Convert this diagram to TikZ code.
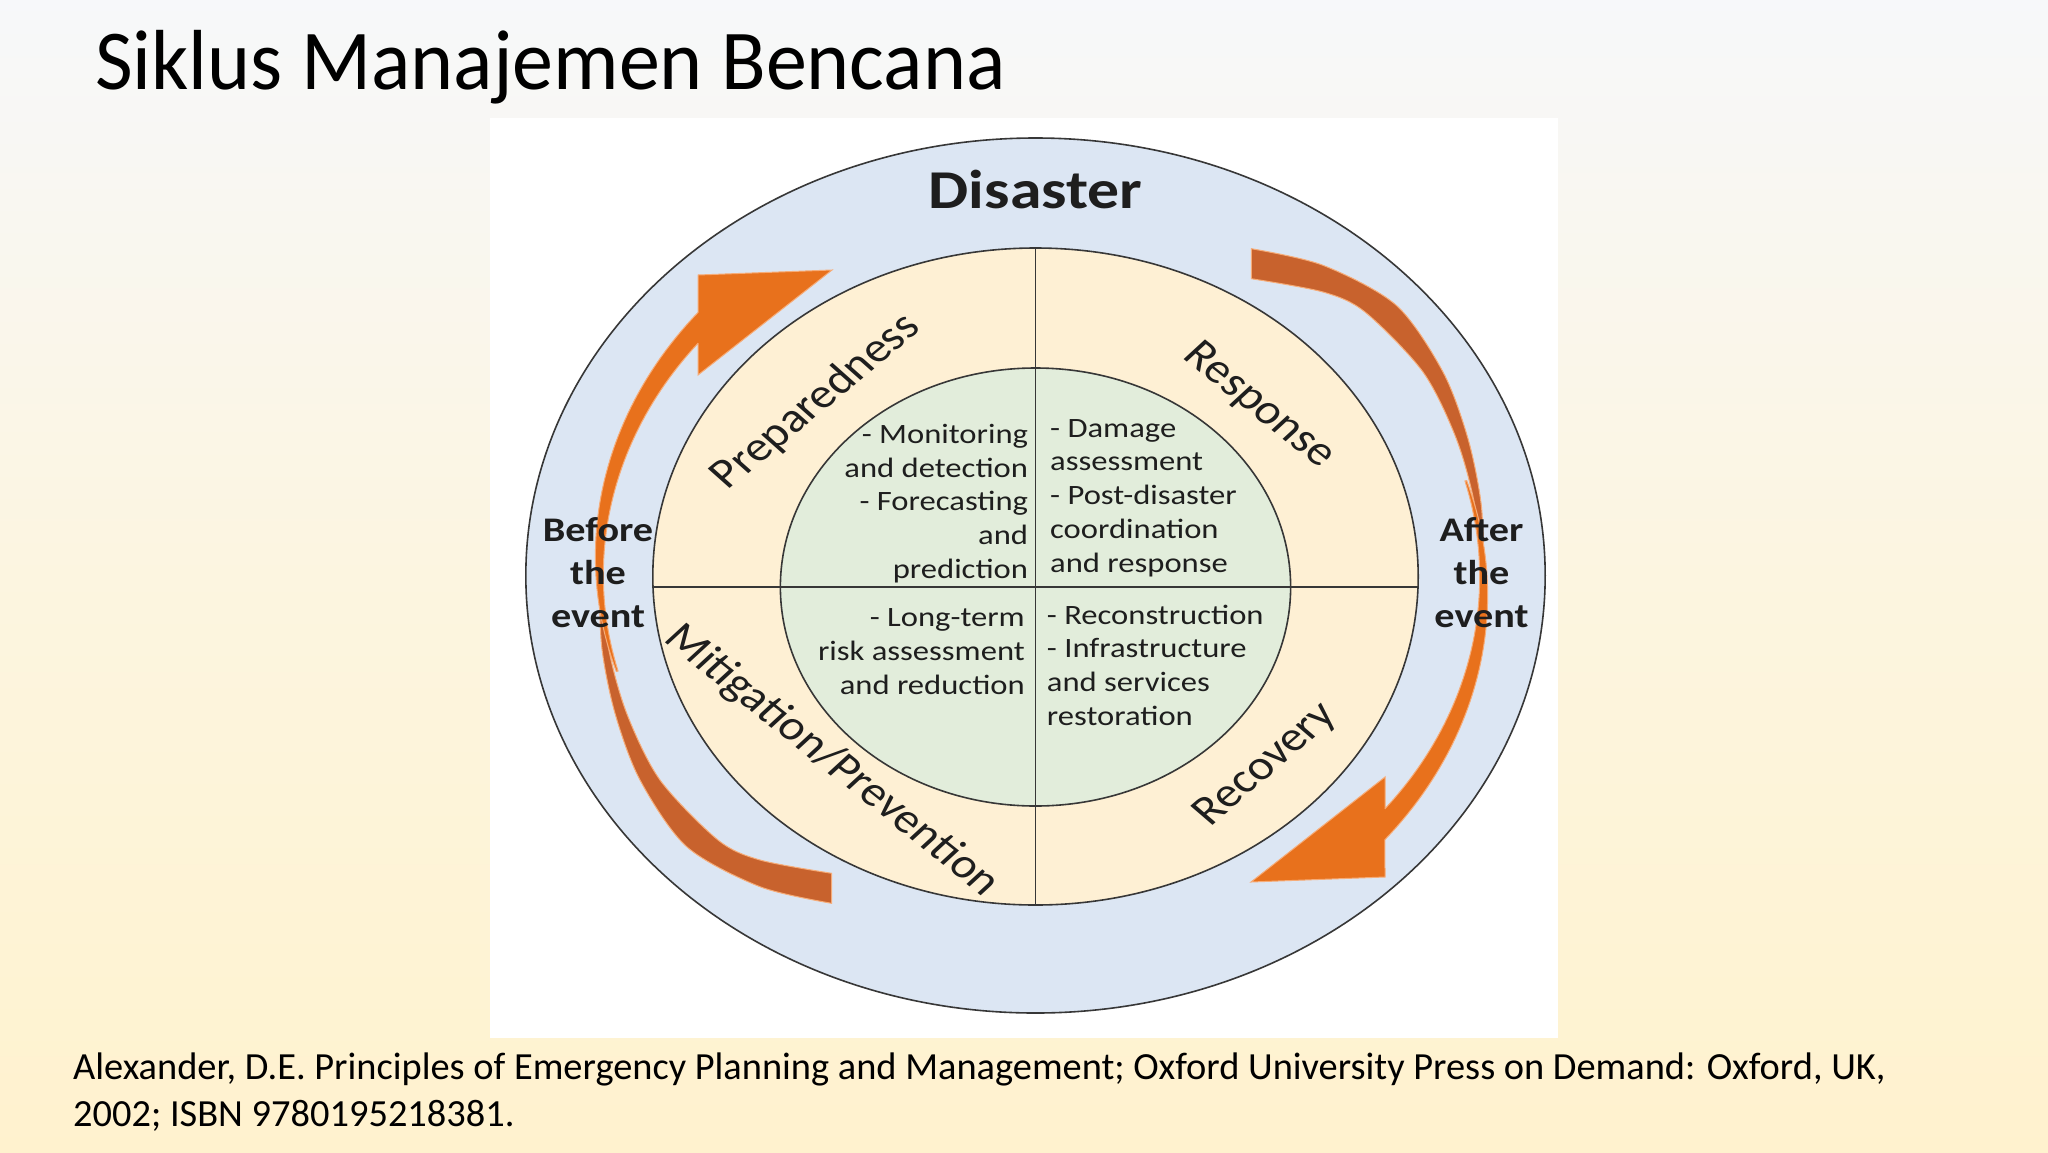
\documentclass[tikz,border=0pt]{standalone}
\usepackage{fontspec}
\setmainfont{Carlito}
\definecolor{bgtop}{RGB}{247,248,250}
\definecolor{bgmid}{RGB}{252,245,224}
\definecolor{bgbot}{RGB}{255,242,206}
\definecolor{ringblue}{RGB}{220,230,243}
\definecolor{ringyellow}{RGB}{254,240,212}
\definecolor{ringgreen}{RGB}{226,237,219}
\definecolor{linegray}{RGB}{55,55,55}
\definecolor{headorange}{RGB}{232,113,28}
\definecolor{tailbrown}{RGB}{200,98,45}
\definecolor{glow}{RGB}{246,172,120}
\definecolor{textdark}{RGB}{30,30,30}
\newcommand\HeadArrowPath{(698,375) -- (698,343.3)
  -- plot[domain=141.3:195, samples=50, variable=\t] ({1035.5+1.165*371*cos(\t)}, {575-371*sin(\t)})
  -- plot[domain=195:137.8, samples=50, variable=\t] ({1035.5+1.165*(372.5+18.5*(195-\t)/57.2)*cos(\t)}, {575-(372.5+18.5*(195-\t)/57.2)*sin(\t)})
  -- (698,275) -- (832,270) -- cycle}
\newcommand\TailArrowPath{(831.7,903.3) -- (831.7,873.3)
  -- plot[smooth] coordinates {(831.7,873.3) (760,860) (718,840) (660,780) (626.7,713.3) (608.3,646.7) (601.5,575)}
  -- plot[smooth] coordinates {(599,575) (601.7,646.7) (615,713.3) (640,780) (686.7,846.7) (760,886.7) (831.7,903.3)}
  -- cycle}
\begin{document}
\begin{tikzpicture}[x=1pt,y=-1pt,
  ring/.style={draw=linegray, line width=1.6pt},
  divider/.style={draw=linegray, line width=1.5pt},
  headarrow/.style={fill=headorange, draw=glow, line width=1pt},
  tailarrow/.style={fill=tailbrown, draw=glow, line width=1pt},
  bigbold/.style={font=\fontsize{54.7}{60}\selectfont\bfseries, text=textdark, inner sep=0pt},
  sidetext/.style={font=\fontsize{34.5}{43.3}\selectfont\bfseries, text=textdark, align=center, inner sep=0pt},
  phase/.style={font=\fontsize{42}{48}\selectfont, text=textdark, inner sep=0pt},
  items/.style={font=\fontsize{28}{33.8}\selectfont, text=textdark, inner sep=0pt},
  slidetext/.style={text=black, inner sep=0pt, anchor=base west}]
\useasboundingbox (0,0) rectangle (2048,1152);
\shade[top color=bgtop, bottom color=bgbot, middle color=bgmid] (0,0) rectangle (2048,1152);
\fill[white] (490,118) rectangle (1558,1038);
% rings
\begin{scope}[shift={(1035.5,575)}, xscale=1.165]
  \filldraw[ring, fill=ringblue] (0,0.5) circle[radius=437.5];
  \filldraw[ring, fill=ringyellow] (0,1.5) circle[radius=328.5];
  \filldraw[ring, fill=ringgreen] (0,12) circle[radius=219];
  \draw[divider] (0,-327) -- (0,330);
  \draw[divider] (-328.3,12) -- (328.3,12);
\end{scope}
% arrows
\path[tailarrow] \TailArrowPath;
\path[headarrow] \HeadArrowPath;
\begin{scope}[rotate around={180:(1041.5,576)}]
  \path[tailarrow] \TailArrowPath;
  \path[headarrow] \HeadArrowPath;
\end{scope}
% texts of the diagram (stretched like the picture)
\begin{scope}[shift={(1035.5,575)}, xscale=1.165, transform shape]
  \node[bigbold] (disaster) at (0,-385.6) {Disaster};
  \node[sidetext] (before) at (-375.5,-2.45) {Before\\the\\event};
  \node[sidetext] (after) at (382.8,-2.45) {After\\the\\event};
  \node[phase, rotate=44] (prep) at (-188.4,-173) {Preparedness};
  \node[phase, rotate=-43] (resp) at (191.8,-169) {Response};
  \node[phase, rotate=-43] (mitig) at (-174.7,186) {Mitigation/Prevention};
  \node[phase, rotate=45] (recov) at (197.9,190) {Recovery};
  \node[items, anchor=east, align=right] (ul) at (-6.2,-71.4) {- Monitoring\\and detection\\- Forecasting\\and\\prediction};
  \node[items, anchor=west, align=left] (ur) at (12.4,-77) {- Damage\\assessment\\- Post-disaster\\coordination\\and response};
  \node[items, anchor=east, align=right] (ll) at (-9,76.9) {- Long-term\\risk assessment\\and reduction};
  \node[items, anchor=west, align=left] (lr) at (9.6,90.2) {- Reconstruction\\- Infrastructure\\and services\\restoration};
\end{scope}
% slide texts
\node[slidetext, font=\fontsize{82}{90}\selectfont, yscale=1.04] (title) at (95,89) {Siklus Manajemen Bencana};
\node[slidetext, font=\fontsize{38.4}{47}\selectfont] (cite1) at (73,1079) {Alexander, D.E. Principles of Emergency Planning and Management; Oxford University Press on Demand: Oxford, UK,};
\node[slidetext, font=\fontsize{38.4}{47}\selectfont] (cite2) at (73,1126) {2002; ISBN 9780195218381.};
\end{tikzpicture}
\end{document}
